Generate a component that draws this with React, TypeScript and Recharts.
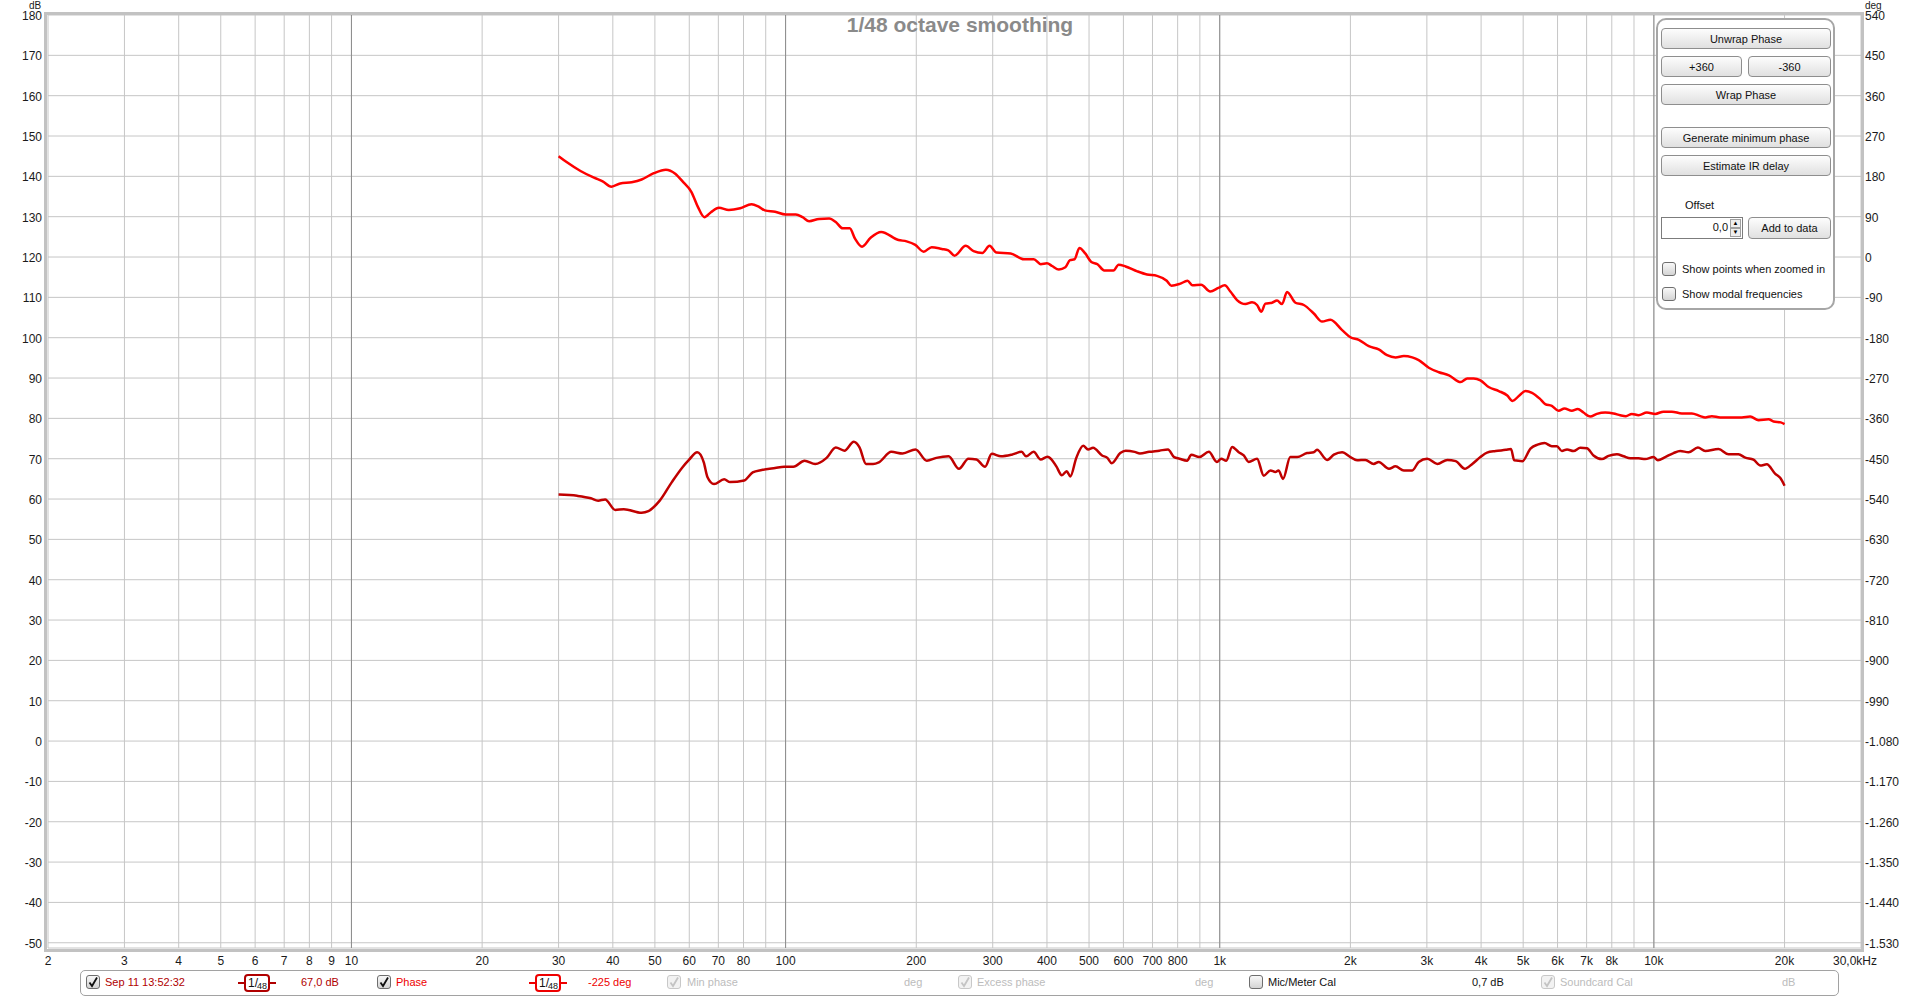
import React from "react";
import { LineChart, Line, XAxis, YAxis, CartesianGrid, ReferenceLine } from "recharts";

// axes
const xTicks = [2, 3, 4, 5, 6, 7, 8, 9, 10, 20, 30, 40, 50, 60, 70, 80, 90, 100, 200, 300, 400, 500, 600, 700, 800, 900,
  1000, 2000, 3000, 4000, 5000, 6000, 7000, 8000, 9000, 10000, 20000, 30000];
const xTickLabels = ["2", "3", "4", "5", "6", "7", "8", "9", "10", "20", "30", "40", "50", "60", "70", "80", "", "100",
  "200", "300", "400", "500", "600", "700", "800", "", "1k", "2k", "3k", "4k", "5k", "6k", "7k", "8k", "", "10k", "20k", "30,0kHz"];
const decades = [10, 100, 1000, 10000];
const dbTicks = [180, 170, 160, 150, 140, 130, 120, 110, 100, 90, 80, 70, 60, 50, 40, 30, 20, 10, 0, -10, -20, -30, -40, -50];
const degTicks = [540, 450, 360, 270, 180, 90, 0, -90, -180, -270, -360, -450, -540, -630, -720, -810, -900, -990,
  -1080, -1170, -1260, -1350, -1440, -1530];

// SPL trace (dB, left axis)
const splFreqs = [30, 33.1, 35.6, 37, 38.4, 40.5, 42.4, 46.6, 48.3, 51.3, 54.7, 57.9, 59.9, 62.6, 64.8, 66.1, 68.4, 72.2,
  74.5, 80.3, 84, 88.1, 94.6, 99.3, 104.2, 110.6, 117, 124.3, 130.5, 136.6, 143.6, 148, 153.2, 159, 164, 175.2, 186,
  199.2, 211.5, 222.4, 237.4, 250.8, 263.7, 275.3, 288, 298.5, 313.4, 331.8, 349.8, 358, 372.6, 386.8, 401, 410, 420.4,
  433, 444, 452.8, 467.3, 484.8, 497.5, 510.8, 535.8, 551, 564, 590, 606.9, 637, 655, 688, 726, 760, 785, 808, 841, 860,
  897, 944, 985, 1008, 1035, 1068, 1106, 1136, 1166, 1219, 1263, 1309, 1343, 1366, 1399, 1454, 1507, 1589, 1646, 1675,
  1768, 1832, 1914, 2000, 2072, 2165, 2263, 2324, 2454, 2540, 2655, 2776, 2873, 3006, 3171, 3344, 3496, 3670, 3817, 3985,
  4128, 4320, 4560, 4688, 4768, 4980, 5197, 5396, 5600, 5820, 5980, 6140, 6310, 6530, 6770, 7010, 7260, 7590, 7863, 8220,
  8520, 8820, 9220, 9550, 9980, 10214, 10620, 11100, 11500, 12020, 12630, 13131, 14090, 14860, 15660, 16240, 16960,
  17600, 18200, 19040, 19540, 20000];
const splValues = [61.1, 60.8, 60.2, 59.6, 59.9, 57.3, 57.5, 56.6, 57, 59.6, 64.2, 67.9, 69.7, 71.6, 69.1, 65.4, 63.7, 64.9,
  64.2, 64.6, 66.6, 67.2, 67.7, 68, 68, 69.5, 68.7, 70.2, 72.8, 72, 74.2, 72.8, 68.7, 68.7, 69.1, 71.7, 71.3,
  72.3, 69.5, 70.2, 70.6, 67.5, 70, 69.8, 68, 71.2, 70.6, 71, 71.7, 70.6, 71.7, 69.8, 70.5, 69.8, 68.1,
  65.9, 66.9, 65.6, 70.2, 73.2, 72.3, 72.7, 70.8, 70.2, 68.9, 71.4, 72, 71.7, 71.3, 71.7, 72, 72.3, 70.4, 70, 69.5, 71,
  70.4, 71.7, 69.2, 70, 69.5, 72.9, 71.6, 70.8, 69.2, 70, 65.8, 67.1, 66.7, 67.1, 65, 70.4, 70.4, 71.4, 71.6, 72.2,
  69.7, 71, 71.6, 70.4, 69.6, 69.7, 68.7, 69.2, 67.5, 68.1, 67.1, 67.1, 69.2, 70, 68.7, 69.7, 69.4, 67.5, 68.7, 70.4,
  71.5, 71.9, 72.2, 72.4, 69.6, 69.4, 72.5, 73.5, 73.9, 73.1, 73.1, 71.9, 72.3, 71.9, 72.7, 72.6, 70.8, 69.9, 70.7, 71.1,
  70.6, 70.1, 70.1, 69.9, 70.4, 69.6, 70.4, 71.4, 71.9, 71.6, 72.75, 71.9, 72.4, 71.1, 71.1, 70.25, 69.75,
  68.3, 68.6, 66.25, 65.25, 63.3];

// Phase trace (deg, right axis)
const phaseFreqs = [30, 31.3, 33.7, 36.2, 37.9, 39.7, 41.6, 44.2, 46.6, 49.7, 53, 55.7, 58.1, 60.7, 62.8, 65, 67.3, 70.2,
  74, 78.6, 83.5, 86.5, 89.6, 94.6, 100, 105.6, 109.4, 113.3, 119.4, 126, 130.5, 135.4, 140.5, 144.5, 150, 157, 166, 182,
  190, 199, 208, 217, 229, 237, 245, 260, 271, 284, 295, 306, 330, 354, 373, 387, 400, 411, 426, 441, 452, 463, 475, 490,
  506, 523, 542, 569, 585, 607, 646, 680, 717, 755, 774, 809, 843, 865, 906, 951, 993, 1027, 1058, 1096, 1146, 1187, 1219,
  1247, 1274, 1320, 1355, 1392, 1429, 1494, 1562, 1647, 1721, 1799, 1914, 2000, 2091, 2205, 2324, 2429, 2540, 2655, 2776,
  2873, 3031, 3198, 3373, 3590, 3716, 3845, 3985, 4163, 4394, 4596, 4723, 4900, 5062, 5240, 5460, 5620, 5820, 6030, 6225,
  6472, 6678, 6884, 7135, 7390, 7726, 8074, 8366, 8621, 8900, 9218, 9636, 10071, 10526, 11000, 11600, 12233, 12786, 13131,
  13600, 14214, 15123, 15948, 16670, 17423, 18370, 18870, 19600, 20000];
const phaseValues = [225, 212, 192, 177, 169, 157, 164, 167, 173, 187, 195, 186, 167, 145, 112, 89, 100, 110,
  105, 109, 118, 113, 104, 101, 95, 95, 89, 80, 85, 86, 78, 64, 64, 41, 23, 43, 56, 38,
  35, 27, 12, 22, 18, 15, 3, 25, 13, 9, 25, 10, 8, -5, -5, -16, -14, -20, -28, -23, -7, -5, 20, 8,
  -11, -16, -30, -30, -17, -21, -32, -39, -42, -53, -64, -60, -53, -63, -62, -77, -69, -63, -77, -96, -105, -101, -107,
  -122, -104, -102, -97, -105, -78, -102, -107, -126, -144, -140, -163, -179, -185, -199, -206, -219, -224, -221, -224,
  -230, -247, -257, -264, -279, -271, -271, -275, -290, -299, -309, -321, -309, -299, -303, -316, -328, -332, -343, -338,
  -343, -339, -347, -356, -350, -347, -349, -353, -355, -350, -353, -347, -350, -345, -345, -349, -349, -355, -358,
  -355, -358, -358, -358, -356, -364, -362, -367, -369, -373];

const splData = splFreqs.map((f, i) => ({ f, v: splValues[i] }));
const phaseData = phaseFreqs.map((f, i) => ({ f, v: phaseValues[i] }));

const FONT = "'Liberation Sans', Arial, sans-serif";

const fmtDeg = (n: number) => {
  const a = Math.abs(n);
  const s = a >= 1000 ? `${Math.floor(a / 1000)}.${String(a % 1000).padStart(3, "0")}` : String(a);
  return n < 0 ? `-${s}` : s;
};

const XTick = (props: any) => {
  const { x, payload } = props;
  const i = xTicks.indexOf(payload.value);
  const label = i >= 0 ? xTickLabels[i] : "";
  if (!label) return <g />;
  return (
    <text x={label.endsWith("Hz") ? x - 6 : x} y={961} textAnchor="middle" dominantBaseline="central"
      fontSize={12} fontFamily={FONT} fill="#1a1a1a">{label}</text>
  );
};

const DbTick = (props: any) => (
  <text x={42} y={props.y + 1} textAnchor="end" dominantBaseline="central" fontSize={12} fontFamily={FONT} fill="#1a1a1a">
    {props.payload.value}
  </text>
);

const DegTick = (props: any) => (
  <text x={1865} y={props.y + 1} textAnchor="start" dominantBaseline="central" fontSize={12} fontFamily={FONT} fill="#1a1a1a">
    {fmtDeg(props.payload.value)}
  </text>
);

const abs = (x: number, y: number, w: number, h: number): React.CSSProperties => ({
  position: "absolute", left: x, top: y, width: w, height: h, boxSizing: "border-box",
});

function Btn({ x, y, w, h, label }: { x: number; y: number; w: number; h: number; label: string }) {
  return (
    <div style={{
      ...abs(x, y, w, h), border: "1px solid #8e8e8e", borderRadius: 4,
      background: "linear-gradient(#fdfdfd, #e0e0e0)", display: "flex", alignItems: "center",
      justifyContent: "center", fontSize: 11, color: "#111",
    }}>{label}</div>
  );
}

function Check({ x, y, checked, disabled }: { x: number; y: number; checked?: boolean; disabled?: boolean }) {
  const c = disabled ? "#c4c4c4" : "#111";
  return (
    <div style={{
      ...abs(x, y, 14, 14), border: `1px solid ${disabled ? "#c8c8c8" : "#6e6e6e"}`, borderRadius: 3,
      background: disabled ? "#f2f2f2" : "linear-gradient(#f8f8f8, #d4d4d4)",
    }}>
      {checked && (
        <svg width={12} height={12} style={{ position: "absolute", left: 0, top: 0 }}>
          <path d="M2.5 6.5 L5 10 L10 1.5" fill="none" stroke={c} strokeWidth={1.8} />
        </svg>
      )}
    </div>
  );
}

function SmoothIcon({ x, color }: { x: number; color: string }) {
  return (
    <svg width={38} height={18} style={{ position: "absolute", left: x, top: 974 }}>
      <line x1={0} y1={9} x2={38} y2={9} stroke={color} strokeWidth={2} />
      <rect x={7} y={1} width={24} height={16} rx={3} fill="#fff" stroke={color} strokeWidth={2} />
      <text x={10} y={13} fontSize={12} fontFamily={FONT} fill="#111">1/</text>
      <text x={19} y={15} fontSize={9} fontFamily={FONT} fill="#111">48</text>
    </svg>
  );
}

function Txt({ x, y, color, children }: { x: number; y: number; color: string; children: React.ReactNode }) {
  return (
    <div style={{ position: "absolute", left: x, top: y - 7, height: 14, lineHeight: "14px", fontSize: 11, color, whiteSpace: "nowrap" }}>
      {children}
    </div>
  );
}

export default function App() {
  return (
    <div style={{ position: "absolute", left: 0, top: 0, width: 1920, height: 997, overflow: "hidden", background: "#fff", fontFamily: FONT }}>
      <LineChart width={1920} height={997} margin={{ top: 15, right: 0, bottom: 19, left: 0 }}>
        <CartesianGrid stroke="#c6c6c6" yAxisId="db" />
        <XAxis dataKey="f" type="number" scale="log" domain={[2, 30000]} allowDataOverflow ticks={xTicks}
          interval={0} tick={XTick} tickLine={false} axisLine={false} height={30} />
        <YAxis yAxisId="db" type="number" domain={[-51.3, 180]} allowDataOverflow ticks={dbTicks} interval={0}
          tick={DbTick} tickLine={false} axisLine={false} width={48} />
        <YAxis yAxisId="deg" orientation="right" type="number" domain={[-1541.7, 540]} allowDataOverflow ticks={degTicks}
          interval={0} tick={DegTick} tickLine={false} axisLine={false} width={59} />
        {decades.map((d) => (
          <ReferenceLine key={d} x={d} yAxisId="db" stroke="#8c8c8c" strokeWidth={1} />
        ))}
        <Line data={splData} dataKey="v" yAxisId="db" type="monotone" stroke="#c00000" strokeWidth={2.5}
          dot={false} isAnimationActive={false} />
        <Line data={phaseData} dataKey="v" yAxisId="deg" type="monotone" stroke="#ff0000" strokeWidth={2.5}
          dot={false} isAnimationActive={false} />
      </LineChart>

      {/* plot frame */}
      <div style={{ ...abs(44, 12, 1820, 940), border: "3px solid #c2c2c2", pointerEvents: "none" }} />

      {/* axis units and title */}
      <div style={{ position: "absolute", left: 29, top: 0, fontSize: 10, lineHeight: "11px", color: "#1a1a1a" }}>dB</div>
      <div style={{ position: "absolute", left: 1865, top: 0, fontSize: 10, lineHeight: "11px", color: "#1a1a1a" }}>deg</div>
      <div style={{ position: "absolute", left: 0, width: 1920, top: 13, textAlign: "center", fontSize: 21, fontWeight: "bold", color: "#8a8a8a" }}>
        1/48 octave smoothing
      </div>

      {/* phase control panel */}
      <div style={{ ...abs(1656, 18, 179, 292), border: "2px solid #a6a6a6", borderRadius: 10, background: "#fff" }} />
      <Btn x={1661} y={28} w={170} h={21} label="Unwrap Phase" />
      <Btn x={1661} y={56} w={81} h={21} label="+360" />
      <Btn x={1748} y={56} w={83} h={21} label="-360" />
      <Btn x={1661} y={84} w={170} h={21} label="Wrap Phase" />
      <Btn x={1661} y={127} w={170} h={21} label="Generate minimum phase" />
      <Btn x={1661} y={155} w={170} h={21} label="Estimate IR delay" />
      <Txt x={1685} y={205} color="#111">Offset</Txt>
      <div style={{ ...abs(1661, 217, 82, 22), border: "1px solid #7c7c7c", background: "#fff" }}>
        <div style={{ position: "absolute", right: 14, top: 3, fontSize: 11, color: "#111" }}>0,0</div>
        <div style={{ ...abs(68, 1, 11, 9), border: "1px solid #a0a0a0", background: "#eee", fontSize: 6, textAlign: "center", lineHeight: "7px" }}>▲</div>
        <div style={{ ...abs(68, 10, 11, 9), border: "1px solid #a0a0a0", background: "#eee", fontSize: 6, textAlign: "center", lineHeight: "7px" }}>▼</div>
      </div>
      <Btn x={1748} y={217} w={83} h={22} label="Add to data" />
      <Check x={1662} y={262} />
      <Txt x={1682} y={269} color="#111">Show points when zoomed in</Txt>
      <Check x={1662} y={287} />
      <Txt x={1682} y={294} color="#111">Show modal frequencies</Txt>

      {/* trace legend */}
      <div style={{ ...abs(80, 970, 1759, 26), border: "1px solid #a2a2a2", borderRadius: 5 }} />
      <Check x={86} y={975} checked />
      <Txt x={105} y={982} color="#b00000">Sep 11 13:52:32</Txt>
      <SmoothIcon x={238} color="#b00000" />
      <Txt x={301} y={982} color="#b00000">67,0 dB</Txt>
      <Check x={377} y={975} checked />
      <Txt x={396} y={982} color="#ee0000">Phase</Txt>
      <SmoothIcon x={529} color="#ee0000" />
      <Txt x={588} y={982} color="#ee0000">-225 deg</Txt>
      <Check x={667} y={975} checked disabled />
      <Txt x={687} y={982} color="#bcbcbc">Min phase</Txt>
      <Txt x={904} y={982} color="#bcbcbc">deg</Txt>
      <Check x={958} y={975} checked disabled />
      <Txt x={977} y={982} color="#bcbcbc">Excess phase</Txt>
      <Txt x={1195} y={982} color="#bcbcbc">deg</Txt>
      <Check x={1249} y={975} />
      <Txt x={1268} y={982} color="#111">Mic/Meter Cal</Txt>
      <Txt x={1472} y={982} color="#111">0,7 dB</Txt>
      <Check x={1541} y={975} checked disabled />
      <Txt x={1560} y={982} color="#bcbcbc">Soundcard Cal</Txt>
      <Txt x={1782} y={982} color="#bcbcbc">dB</Txt>
    </div>
  );
}
